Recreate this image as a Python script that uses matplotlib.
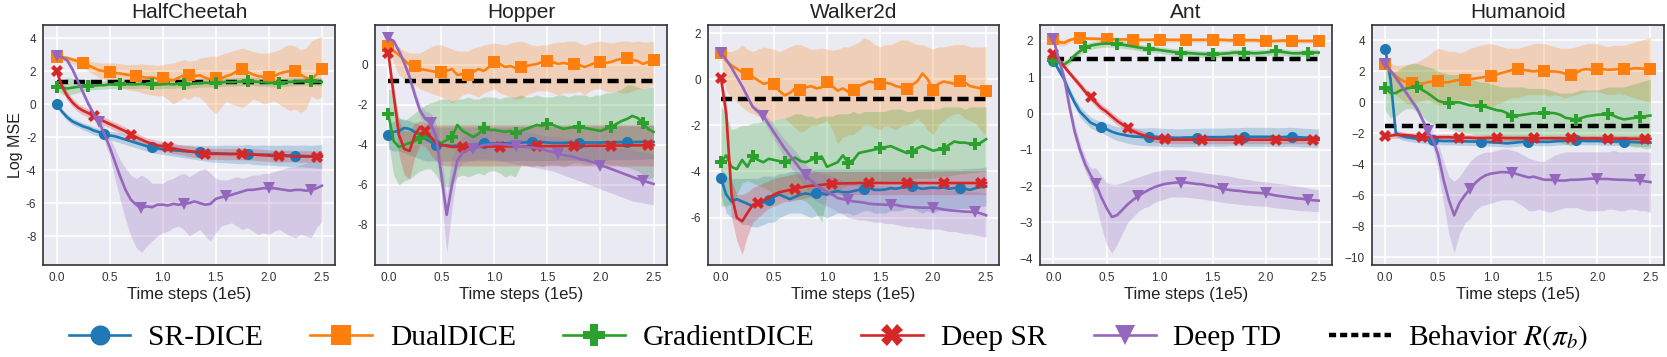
import numpy as np
import matplotlib.pyplot as plt
from matplotlib.lines import Line2D
from matplotlib.ticker import FuncFormatter

plt.rcParams['font.family'] = ['Liberation Sans', 'DejaVu Sans']
plt.rcParams['mathtext.fontset'] = 'stix'

# time steps (1e5), one reading every 0.05
steps = np.arange(51) * 0.05

envs = ['HalfCheetah', 'Hopper', 'Walker2d', 'Ant', 'Humanoid']
methods = ['SR-DICE', 'DualDICE', 'GradientDICE', 'Deep SR', 'Deep TD']
behavior_label = 'Behavior $R(\\pi_b)$'

# ---------------- HalfCheetah ----------------
hc_sr = [0.0, -0.45, -0.8, -1.05, -1.2, -1.35, -1.45, -1.6, -1.7, -1.82,
         -1.9, -1.95, -2.05, -2.15, -2.25, -2.35, -2.45, -2.55, -2.62, -2.68,
         -2.72, -2.76, -2.8, -2.82, -2.85, -2.88, -2.9, -2.92, -2.95, -2.97,
         -2.98, -3.0, -3.0, -3.02, -3.02, -3.03, -3.02, -3.05, -3.06, -3.06,
         -3.07, -3.08, -3.1, -3.1, -3.12, -3.14, -3.14, -3.15, -3.16, -3.17, -3.18]
hc_sr_lo = [-0.05, -0.6, -1.0, -1.25, -1.4, -1.55, -1.7, -1.85, -1.95, -2.05,
            -2.15, -2.25, -2.35, -2.45, -2.55, -2.65, -2.75, -2.85, -2.95, -3.0,
            -3.05, -3.1, -3.15, -3.2, -3.25, -3.3, -3.35, -3.4, -3.45, -3.5,
            -3.52, -3.55, -3.55, -3.58, -3.6, -3.62, -3.6, -3.65, -3.68, -3.7,
            -3.7, -3.72, -3.75, -3.75, -3.78, -3.8, -3.8, -3.82, -3.85, -3.88, -3.9]
hc_sr_hi = [0.05, -0.3, -0.6, -0.85, -1.0, -1.15, -1.25, -1.38, -1.48, -1.58,
            -1.65, -1.68, -1.75, -1.85, -1.95, -2.05, -2.15, -2.25, -2.3, -2.35,
            -2.4, -2.42, -2.45, -2.45, -2.47, -2.48, -2.5, -2.5, -2.52, -2.5,
            -2.5, -2.5, -2.48, -2.5, -2.5, -2.48, -2.45, -2.5, -2.5, -2.48,
            -2.48, -2.5, -2.5, -2.48, -2.5, -2.5, -2.48, -2.48, -2.5, -2.48, -2.45]
hc_dual = [2.85, 2.85, 2.8, 2.7, 2.6, 2.5, 2.35, 2.2, 2.05, 2.0,
           1.95, 1.9, 1.85, 1.8, 1.75, 1.68, 1.65, 1.6, 1.62, 1.55,
           1.58, 1.5, 1.45, 1.6, 1.75, 1.78, 1.7, 1.75, 1.6, 1.5,
           1.58, 1.55, 1.7, 1.8, 2.0, 2.15, 1.95, 1.8, 1.7, 1.65,
           1.64, 1.7, 1.85, 1.95, 2.0, 1.98, 1.8, 1.6, 1.5, 1.8, 2.15]
hc_dual_lo = [2.8, 2.75, 2.6, 2.45, 2.35, 2.25, 2.0, 1.8, 1.6, 1.5,
              1.4, 1.2, 1.0, 0.9, 0.85, 0.8, 0.7, 0.6, 0.55, 0.5,
              0.5, 0.3, 0.0, 0.2, 0.4, 0.3, 0.5, 0.4, 0.1, -0.3,
              -0.6, -0.2, 0.2, 0.0, -0.1, -0.2, 0.0, 0.3, 0.2, 0.0,
              0.1, 0.2, 0.0, -0.2, -0.4, -0.3, -0.5, -0.3, 0.5, 0.3, 0.4]
hc_dual_hi = [2.9, 2.9, 2.9, 2.85, 2.8, 2.7, 2.6, 2.55, 2.5, 2.5,
              2.5, 2.5, 2.45, 2.4, 2.4, 2.4, 2.45, 2.4, 2.4, 2.35,
              2.4, 2.45, 2.5, 2.6, 2.7, 2.6, 2.65, 2.8, 2.85, 2.9,
              2.9, 3.0, 3.1, 3.2, 3.3, 3.4, 3.3, 3.2, 3.1, 3.1,
              3.1, 3.2, 3.3, 3.5, 3.6, 3.5, 3.3, 3.4, 3.8, 4.0, 4.1]
hc_grad = [1.05, 1.0, 0.95, 1.0, 1.05, 1.1, 1.1, 1.12, 1.15, 1.15,
           1.2, 1.18, 1.2, 1.22, 1.2, 1.2, 1.22, 1.2, 1.2, 1.18,
           1.2, 1.22, 1.2, 1.25, 1.2, 1.22, 1.25, 1.28, 1.3, 1.28,
           1.3, 1.32, 1.35, 1.33, 1.35, 1.38, 1.4, 1.38, 1.35, 1.33,
           1.3, 1.28, 1.3, 1.32, 1.35, 1.37, 1.38, 1.4, 1.4, 1.38, 1.35]
hc_grad_lo = [0.9, 0.6, 0.5, 0.6, 0.7, 0.8, 0.85, 0.88, 0.9, 0.92,
              0.95, 0.93, 0.95, 0.97, 0.95, 0.95, 0.97, 0.95, 0.95, 0.93,
              0.95, 0.97, 0.95, 1.0, 0.95, 0.97, 1.0, 1.03, 1.05, 1.03,
              1.05, 1.07, 1.1, 1.08, 1.1, 1.13, 1.15, 1.13, 1.1, 1.08,
              1.05, 1.03, 1.05, 1.07, 1.1, 1.12, 1.13, 1.15, 1.15, 1.13, 1.1]
hc_grad_hi = [1.2, 1.5, 1.6, 1.55, 1.5, 1.45, 1.42, 1.4, 1.42, 1.42,
              1.45, 1.43, 1.45, 1.47, 1.45, 1.45, 1.47, 1.45, 1.45, 1.43,
              1.45, 1.47, 1.45, 1.5, 1.45, 1.47, 1.5, 1.53, 1.55, 1.53,
              1.55, 1.57, 1.6, 1.58, 1.6, 1.63, 1.65, 1.63, 1.6, 1.58,
              1.55, 1.53, 1.55, 1.57, 1.6, 1.62, 1.63, 1.65, 1.65, 1.63, 1.6]
hc_dsr = [2.0, 1.1, 0.5, 0.1, -0.2, -0.4, -0.55, -0.72, -0.9, -1.05,
          -1.2, -1.35, -1.5, -1.65, -1.85, -2.0, -2.15, -2.3, -2.4, -2.5,
          -2.55, -2.6, -2.68, -2.75, -2.8, -2.85, -2.9, -2.95, -3.0, -3.02,
          -3.02, -3.02, -3.03, -3.03, -3.02, -3.02, -3.05, -3.05, -3.08, -3.1,
          -3.12, -3.15, -3.17, -3.15, -3.15, -3.17, -3.17, -3.18, -3.18, -3.18, -3.15]
hc_dsr_lo = [1.85, 0.85, 0.25, -0.15, -0.45, -0.65, -0.8, -0.95, -1.15, -1.3,
             -1.45, -1.6, -1.75, -1.9, -2.1, -2.25, -2.4, -2.55, -2.68, -2.78,
             -2.85, -2.9, -3.0, -3.05, -3.1, -3.18, -3.22, -3.28, -3.32, -3.35,
             -3.35, -3.36, -3.37, -3.37, -3.37, -3.37, -3.4, -3.4, -3.43, -3.45,
             -3.47, -3.5, -3.52, -3.5, -3.5, -3.52, -3.52, -3.53, -3.53, -3.53, -3.5]
hc_dsr_hi = [2.15, 1.35, 0.75, 0.35, 0.05, -0.15, -0.3, -0.49, -0.65, -0.8,
             -0.95, -1.1, -1.25, -1.4, -1.6, -1.75, -1.9, -2.05, -2.12, -2.22,
             -2.25, -2.3, -2.36, -2.45, -2.5, -2.52, -2.58, -2.62, -2.68, -2.69,
             -2.69, -2.68, -2.69, -2.69, -2.67, -2.67, -2.7, -2.7, -2.73, -2.75,
             -2.77, -2.8, -2.82, -2.8, -2.8, -2.82, -2.82, -2.83, -2.83, -2.83, -2.8]
hc_dtd = [2.9, 2.85, 2.65, 2.1, 1.4, 0.7, 0.0, -0.6, -1.1, -1.8,
          -2.6, -3.5, -4.4, -5.2, -5.8, -6.1, -6.3, -6.2, -6.25, -6.1,
          -6.1, -6.15, -6.05, -6.1, -6.05, -6.0, -5.9, -6.0, -6.1, -6.05,
          -5.75, -5.65, -5.6, -5.5, -5.4, -5.3, -5.2, -5.2, -5.15, -5.1,
          -5.1, -5.1, -5.15, -5.2, -5.25, -5.2, -5.2, -5.25, -5.2, -5.1, -4.95]
hc_dtd_lo = [2.8, 2.75, 2.5, 1.9, 1.2, 0.5, -0.2, -0.8, -1.3, -2.2,
             -3.2, -4.5, -5.8, -7.0, -8.0, -8.7, -9.0, -8.6, -8.3, -8.0,
             -7.8, -7.7, -7.5, -7.4, -7.6, -8.0, -7.8, -7.6, -8.0, -8.3,
             -7.8, -7.4, -7.3, -7.2, -7.4, -7.6, -7.5, -7.7, -7.9, -7.8,
             -7.9, -7.7, -7.6, -7.8, -8.0, -8.1, -7.9, -8.0, -8.1, -7.5, -7.1]
hc_dtd_hi = [3.0, 2.95, 2.8, 2.3, 1.6, 0.9, 0.2, -0.4, -0.9, -1.4,
             -2.0, -2.7, -3.4, -3.9, -4.3, -4.5, -4.3, -4.5, -4.8, -4.8,
             -4.8, -4.6, -4.5, -4.3, -4.2, -4.4, -4.2, -4.0, -3.9, -4.2,
             -4.5, -4.6, -4.6, -4.5, -4.4, -4.5, -4.4, -4.3, -4.3, -4.2,
             -4.2, -4.1, -4.0, -3.9, -3.8, -3.8, -3.7, -3.6, -3.5, -3.5, -3.4]
hc_beh = 1.35

# ---------------- Hopper ----------------
hp_sr = [-3.5, -3.35, -3.3, -3.15, -3.2, -3.35, -3.5, -3.7, -3.85, -3.98,
         -4.0, -4.02, -4.05, -4.03, -4.0, -4.0, -3.97, -3.95, -3.92, -3.93,
         -3.92, -3.9, -3.92, -3.9, -3.9, -3.88, -3.87, -3.86, -3.85, -3.86,
         -3.88, -3.9, -3.9, -3.9, -3.88, -3.9, -3.9, -3.88, -3.88, -3.88,
         -3.88, -3.87, -3.87, -3.86, -3.86, -3.87, -3.86, -3.85, -3.85, -3.85, -3.85]
hp_sr_lo = [-4.2, -4.3, -4.3, -4.4, -4.5, -4.6, -4.7, -4.8, -4.8, -4.8,
            -4.8, -4.8, -4.8, -4.8, -4.8, -4.8, -4.8, -4.8, -4.8, -4.8,
            -4.8, -4.8, -4.8, -4.8, -4.78, -4.78, -4.78, -4.78, -4.78, -4.78,
            -4.78, -4.78, -4.76, -4.76, -4.76, -4.76, -4.76, -4.76, -4.75, -4.75,
            -4.75, -4.75, -4.74, -4.74, -4.74, -4.73, -4.72, -4.72, -4.72, -4.7, -4.7]
hp_sr_hi = [-3.0, -2.8, -2.7, -2.7, -2.8, -2.9, -3.0, -3.05, -3.1, -3.1,
            -3.1, -3.1, -3.1, -3.1, -3.1, -3.1, -3.1, -3.1, -3.1, -3.1,
            -3.1, -3.1, -3.1, -3.1, -3.08, -3.08, -3.08, -3.08, -3.08, -3.08,
            -3.08, -3.08, -3.07, -3.07, -3.07, -3.07, -3.06, -3.06, -3.06, -3.06,
            -3.06, -3.05, -3.05, -3.05, -3.05, -3.04, -3.04, -3.04, -3.03, -3.03, -3.03]
hp_dual = [0.95, 0.7, 0.5, 0.25, 0.0, -0.03, -0.2, -0.25, -0.3, -0.35,
           -0.37, -0.3, -0.2, -0.5, -0.45, -0.48, -0.35, -0.2, -0.3, -0.1,
           0.17, 0.05, -0.1, -0.05, -0.15, -0.12, -0.05, 0.0, 0.05, 0.15,
           0.22, 0.15, 0.05, 0.1, 0.05, 0.05, 0.0, -0.1, 0.0, 0.1,
           0.13, 0.1, 0.15, 0.25, 0.3, 0.35, 0.25, 0.2, 0.05, 0.15, 0.25]
hp_dual_lo = [0.85, 0.1, -0.5, -0.7, -0.8, -1.0, -1.2, -1.3, -1.4, -1.5,
              -1.6, -1.7, -1.9, -1.7, -1.5, -1.4, -1.5, -1.6, -1.4, -1.3,
              -1.2, -1.4, -1.5, -1.6, -1.7, -1.7, -1.5, -1.4, -1.3, -1.3,
              -1.3, -1.4, -1.5, -1.4, -1.4, -1.4, -1.3, -1.5, -1.3, -1.2,
              -1.2, -1.3, -1.4, -1.3, -1.4, -1.4, -1.3, -1.2, -1.2, -1.1, -1.0]
hp_dual_hi = [1.05, 1.0, 0.9, 0.7, 0.6, 0.6, 0.6, 0.75, 0.9, 1.0,
              1.0, 0.9, 0.8, 0.7, 0.7, 0.7, 0.85, 0.9, 1.0, 1.05,
              1.1, 1.05, 1.0, 1.1, 1.15, 1.2, 1.1, 1.0, 0.95, 1.0,
              1.0, 1.1, 1.15, 1.15, 1.2, 1.2, 1.1, 1.0, 1.1, 1.15,
              1.2, 1.15, 1.1, 1.15, 1.2, 1.2, 1.15, 1.2, 1.15, 1.15, 1.2]
hp_grad = [-2.45, -3.8, -4.1, -4.0, -3.9, -3.8, -3.65, -3.5, -3.7, -3.85,
           -3.9, -3.75, -3.62, -3.0, -3.3, -3.45, -3.6, -3.45, -3.17, -3.25,
           -3.25, -3.3, -3.35, -3.3, -3.4, -3.3, -3.2, -3.1, -3.0, -3.05,
           -2.95, -3.0, -3.1, -3.2, -3.15, -3.1, -3.08, -3.15, -3.2, -3.25,
           -3.3, -3.2, -3.1, -2.95, -2.8, -2.7, -2.55, -2.65, -2.9, -3.2, -3.35]
hp_grad_lo = [-3.8, -5.5, -6.0, -5.8, -5.7, -5.5, -5.3, -5.2, -5.2, -5.5,
              -6.0, -6.1, -6.0, -5.6, -5.5, -5.6, -5.5, -5.4, -5.5, -5.3,
              -5.3, -5.4, -5.6, -5.5, -5.6, -5.0, -5.0, -5.1, -5.0, -5.1,
              -5.0, -5.0, -5.0, -5.1, -5.0, -4.9, -4.9, -5.0, -5.0, -4.9,
              -4.9, -4.95, -5.0, -5.0, -5.1, -5.1, -5.2, -5.3, -5.5, -5.7, -5.6]
hp_grad_hi = [-1.2, -1.3, -2.6, -2.8, -2.6, -2.4, -2.2, -2.0, -1.9, -1.8,
              -1.7, -1.7, -1.8, -1.7, -1.7, -1.6, -1.7, -1.7, -1.6, -1.6,
              -1.6, -1.7, -1.6, -1.6, -1.6, -1.5, -1.6, -1.6, -1.5, -1.6,
              -1.6, -1.6, -1.5, -1.5, -1.6, -1.5, -1.5, -1.5, -1.6, -1.5,
              -1.5, -1.4, -1.4, -1.3, -1.2, -1.0, -1.0, -1.1, -1.2, -1.1, -1.1]
hp_dsr = [0.6, -1.5, -3.5, -4.2, -4.3, -3.5, -3.1, -3.28, -3.6, -3.9,
          -4.0, -4.05, -4.1, -4.1, -4.1, -4.1, -4.1, -4.08, -4.08, -4.08,
          -4.08, -4.08, -4.07, -4.07, -4.07, -4.07, -4.07, -4.07, -4.06, -4.06,
          -4.06, -4.06, -4.06, -4.05, -4.05, -4.05, -4.05, -4.05, -4.04, -4.04,
          -4.04, -4.04, -4.03, -4.03, -4.03, -4.03, -4.02, -4.02, -4.02, -4.02, -4.01]
hp_dsr_lo = [0.4, -2.0, -4.5, -5.5, -5.7, -4.6, -4.0, -4.1, -4.5, -4.8,
             -5.0, -5.05, -5.05, -5.05, -5.05, -5.05, -5.05, -5.05, -5.05, -5.05,
             -5.05, -5.05, -5.05, -5.05, -5.05, -5.05, -5.05, -5.05, -5.05, -5.05,
             -5.05, -5.05, -5.05, -5.05, -5.05, -5.05, -5.05, -5.05, -5.05, -5.05,
             -5.05, -5.05, -5.05, -5.05, -5.05, -5.05, -5.05, -5.05, -5.05, -5.05, -5.05]
hp_dsr_hi = [0.8, -1.0, -2.8, -3.3, -3.3, -2.9, -2.8, -2.9, -3.0, -3.0,
             -3.0, -3.0, -3.0, -3.0, -3.0, -3.0, -3.0, -3.0, -3.0, -3.0,
             -3.0, -3.0, -3.0, -3.0, -3.0, -3.0, -3.0, -3.0, -3.0, -3.0,
             -3.0, -3.0, -3.0, -3.0, -3.0, -3.0, -3.0, -3.0, -3.0, -3.0,
             -3.0, -3.0, -3.0, -3.0, -3.0, -3.0, -3.0, -3.0, -3.0, -3.0, -3.0]
hp_dtd = [1.33, 1.2, 0.7, 0.1, -0.6, -1.5, -2.3, -2.7, -2.9, -3.6,
          -5.5, -7.5, -6.0, -4.8, -4.4, -4.25, -4.2, -4.1, -4.0, -3.98,
          -3.95, -3.96, -3.98, -4.0, -4.05, -4.07, -4.1, -4.13, -4.17, -4.2,
          -4.3, -4.35, -4.45, -4.5, -4.55, -4.6, -4.7, -4.75, -4.82, -4.9,
          -5.03, -5.1, -5.2, -5.3, -5.4, -5.5, -5.6, -5.7, -5.78, -5.87, -5.95]
hp_dtd_lo = [1.25, 1.1, 0.55, -0.1, -0.85, -1.8, -2.6, -3.1, -3.4, -4.3,
             -6.5, -9.4, -7.2, -5.3, -4.9, -4.8, -4.75, -4.7, -4.7, -4.7,
             -4.75, -4.8, -4.85, -4.9, -4.95, -5.0, -5.05, -5.1, -5.15, -5.2,
             -5.25, -5.3, -5.4, -5.5, -5.6, -5.7, -5.8, -5.9, -6.0, -6.1,
             -6.2, -6.3, -6.4, -6.5, -6.6, -6.7, -6.8, -6.85, -6.9, -6.95, -7.0]
hp_dtd_hi = [1.4, 1.3, 0.85, 0.3, -0.35, -1.2, -2.0, -2.3, -2.4, -2.9,
             -4.5, -6.5, -4.6, -4.0, -3.6, -3.5, -3.4, -3.3, -3.3, -3.25,
             -3.2, -3.2, -3.2, -3.25, -3.3, -3.3, -3.35, -3.4, -3.45, -3.5,
             -3.55, -3.6, -3.6, -3.65, -3.7, -3.7, -3.75, -3.8, -3.85, -3.9,
             -3.95, -4.0, -4.05, -4.1, -4.15, -4.2, -4.25, -4.3, -4.35, -4.4, -4.5]
hp_beh = -0.8

# ---------------- Walker2d ----------------
wk_sr = [-4.3, -5.0, -5.3, -5.2, -5.3, -5.4, -5.5, -5.45, -5.35, -5.25,
         -5.1, -5.0, -5.1, -5.2, -5.1, -5.0, -4.95, -5.0, -4.93, -4.95,
         -5.0, -4.9, -4.85, -4.9, -4.9, -4.85, -4.8, -4.75, -4.72, -4.8,
         -4.8, -4.78, -4.72, -4.75, -4.7, -4.68, -4.65, -4.7, -4.75, -4.72,
         -4.7, -4.72, -4.7, -4.75, -4.72, -4.72, -4.75, -4.8, -4.72, -4.68, -4.65]
wk_sr_lo = [-5.0, -5.8, -6.0, -6.1, -6.3, -6.3, -6.4, -6.4, -6.3, -6.2,
            -6.2, -6.0, -5.9, -5.8, -5.8, -5.8, -5.9, -6.0, -5.9, -5.9,
            -6.0, -5.9, -5.8, -5.8, -5.8, -5.9, -5.8, -5.7, -5.7, -5.8,
            -5.8, -5.8, -5.7, -5.7, -5.7, -5.6, -5.6, -5.7, -5.8, -5.7,
            -5.8, -5.7, -5.7, -5.6, -5.6, -5.6, -5.6, -5.6, -5.5, -5.5, -5.5]
wk_sr_hi = [-3.8, -4.2, -4.3, -4.3, -4.3, -4.3, -4.3, -4.3, -4.2, -4.2,
            -4.2, -4.1, -4.1, -4.0, -4.0, -4.0, -4.0, -3.95, -3.9, -3.9,
            -3.9, -3.9, -3.9, -3.9, -3.9, -3.9, -3.9, -3.9, -3.9, -3.9,
            -3.9, -3.9, -3.9, -3.9, -3.9, -3.9, -3.9, -3.9, -3.9, -3.9,
            -3.9, -3.9, -3.9, -3.9, -3.9, -3.9, -3.88, -3.87, -3.86, -3.85, -3.8]
wk_dual = [1.15, 0.8, 0.6, 0.45, 0.3, 0.24, 0.1, -0.05, -0.2, -0.15,
           -0.22, -0.5, -0.7, -0.6, -0.4, -0.46, -0.35, -0.3, -0.4, -0.35,
           -0.12, -0.3, -0.5, -0.4, -0.55, -0.48, -0.3, -0.2, -0.1, -0.15,
           -0.19, -0.15, -0.2, -0.3, -0.35, -0.43, -0.25, -0.1, 0.25, 0.0,
           -0.47, -0.2, -0.1, -0.15, -0.2, -0.07, -0.15, -0.3, -0.35, -0.4, -0.5]
wk_dual_lo = [1.1, -0.5, -0.8, -1.0, -1.2, -1.4, -1.5, -1.6, -1.7, -1.8,
              -1.8, -1.7, -1.7, -1.9, -2.1, -2.3, -2.2, -2.0, -2.0, -1.9,
              -1.8, -2.2, -2.8, -2.5, -2.4, -2.4, -2.2, -2.0, -2.0, -2.1,
              -2.2, -2.0, -2.1, -2.2, -2.0, -2.0, -1.9, -1.7, -1.9, -2.2,
              -2.4, -2.0, -1.8, -1.6, -1.5, -1.5, -1.7, -1.8, -1.9, -2.2, -2.5]
wk_dual_hi = [1.2, 1.2, 1.2, 1.3, 1.5, 1.3, 1.2, 1.3, 1.4, 1.35,
              1.3, 1.2, 1.3, 1.4, 1.5, 1.5, 1.4, 1.3, 1.3, 1.35,
              1.3, 1.25, 1.3, 1.4, 1.4, 1.5, 1.6, 1.8, 1.7, 1.5,
              1.4, 1.5, 1.5, 1.6, 1.7, 1.7, 1.6, 1.5, 1.5, 1.4,
              1.3, 1.4, 1.4, 1.45, 1.5, 1.5, 1.5, 1.4, 1.4, 1.4, 1.4]
wk_grad = [-3.6, -3.3, -3.8, -3.9, -3.5, -3.8, -3.34, -3.5, -3.6, -3.45,
           -3.5, -3.55, -3.6, -3.5, -3.4, -3.55, -3.6, -3.5, -3.4, -3.35,
           -3.8, -3.7, -3.6, -3.3, -3.62, -3.5, -3.2, -3.15, -3.1, -3.05,
           -3.0, -2.95, -2.9, -3.0, -3.1, -3.2, -3.17, -3.0, -2.9, -3.0,
           -3.1, -3.05, -3.02, -2.85, -2.7, -2.75, -2.75, -2.8, -2.83, -2.75, -2.6]
wk_grad_lo = [-5.5, -5.5, -5.4, -5.0, -4.5, -4.4, -4.5, -4.6, -4.7, -4.8,
              -5.0, -5.0, -5.1, -5.2, -5.2, -5.2, -5.3, -5.5, -5.8, -6.2,
              -5.0, -4.9, -4.8, -4.7, -4.6, -4.6, -4.6, -4.5, -4.5, -4.5,
              -4.5, -4.45, -4.4, -4.4, -4.4, -4.4, -4.35, -4.3, -4.3, -4.3,
              -4.3, -4.25, -4.2, -4.2, -4.15, -4.1, -4.1, -4.05, -4.05, -4.0, -4.0]
wk_grad_hi = [-1.2, -1.5, -2.2, -2.1, -2.0, -2.0, -1.9, -1.9, -1.8, -1.8,
              -1.8, -1.7, -1.7, -1.6, -1.5, -1.5, -1.6, -1.6, -1.7, -1.6,
              -1.6, -1.6, -1.5, -1.5, -1.5, -1.4, -1.5, -1.4, -1.4, -1.4,
              -1.4, -1.4, -1.3, -1.3, -1.3, -1.4, -1.4, -1.3, -1.3, -1.3,
              -1.3, -1.3, -1.2, -1.2, -1.2, -1.2, -1.3, -1.2, -1.2, -1.2, -1.2]
wk_dsr = [0.07, -1.5, -5.0, -6.0, -6.16, -5.8, -5.45, -5.35, -5.25, -5.15,
          -5.0, -4.9, -4.85, -4.8, -4.75, -4.7, -4.65, -4.62, -4.6, -4.58,
          -4.55, -4.53, -4.52, -4.52, -4.51, -4.51, -4.5, -4.5, -4.5, -4.5,
          -4.5, -4.5, -4.5, -4.5, -4.5, -4.5, -4.5, -4.5, -4.5, -4.5,
          -4.5, -4.5, -4.5, -4.5, -4.5, -4.5, -4.5, -4.5, -4.5, -4.5, -4.5]
wk_dsr_lo = [0.0, -2.2, -6.0, -7.0, -7.6, -6.8, -6.2, -6.0, -5.8, -5.6,
             -5.5, -5.4, -5.3, -5.3, -5.25, -5.2, -5.15, -5.1, -5.1, -5.05,
             -5.05, -5.0, -5.0, -5.0, -5.0, -5.0, -5.0, -5.0, -5.0, -5.0,
             -5.0, -5.0, -5.0, -5.0, -5.0, -5.0, -5.0, -5.0, -5.0, -5.0,
             -5.0, -5.0, -5.0, -5.0, -5.0, -5.0, -5.0, -5.0, -5.0, -5.0, -5.0]
wk_dsr_hi = [0.15, -0.8, -4.4, -5.0, -5.0, -4.9, -4.7, -4.6, -4.5, -4.4,
             -4.3, -4.25, -4.2, -4.15, -4.1, -4.1, -4.05, -4.05, -4.0, -4.0,
             -4.0, -4.0, -4.0, -4.0, -4.0, -4.0, -4.0, -4.0, -4.0, -4.0,
             -4.0, -4.0, -4.0, -4.0, -4.0, -4.0, -4.0, -4.0, -4.0, -4.0,
             -3.98, -3.98, -3.98, -3.97, -3.97, -3.97, -3.96, -3.96, -3.96, -3.95, -3.95]
wk_dtd = [1.15, 0.85, 0.5, 0.1, -0.3, -0.75, -1.2, -1.4, -1.58, -1.95,
          -2.3, -2.65, -3.0, -3.3, -3.6, -3.9, -4.17, -4.4, -4.6, -4.75,
          -4.9, -5.0, -5.15, -5.2, -5.25, -5.3, -5.32, -5.35, -5.4, -5.42,
          -5.43, -5.44, -5.44, -5.45, -5.5, -5.52, -5.55, -5.56, -5.57, -5.57,
          -5.57, -5.6, -5.65, -5.68, -5.7, -5.72, -5.74, -5.75, -5.76, -5.82, -5.9]
wk_dtd_lo = [1.1, 0.8, 0.45, 0.05, -0.35, -0.8, -1.3, -1.55, -1.8, -2.2,
             -2.6, -3.0, -3.4, -3.75, -4.1, -4.4, -4.7, -5.0, -5.3, -5.4,
             -5.5, -5.6, -5.75, -5.85, -6.0, -6.05, -6.1, -6.1, -6.15, -6.2,
             -6.2, -6.25, -6.25, -6.3, -6.35, -6.4, -6.4, -6.45, -6.45, -6.5,
             -6.5, -6.5, -6.55, -6.6, -6.6, -6.65, -6.7, -6.7, -6.75, -6.8, -6.85]
wk_dtd_hi = [1.2, 0.9, 0.55, 0.15, -0.25, -0.7, -1.1, -1.25, -1.4, -1.7,
             -2.0, -2.3, -2.6, -2.85, -3.1, -3.4, -3.7, -3.9, -4.0, -4.1,
             -4.1, -4.2, -4.3, -4.4, -4.5, -4.5, -4.55, -4.55, -4.6, -4.6,
             -4.6, -4.62, -4.62, -4.65, -4.7, -4.7, -4.72, -4.72, -4.75, -4.75,
             -4.75, -4.78, -4.8, -4.8, -4.82, -4.85, -4.85, -4.87, -4.88, -4.9, -4.95]
wk_beh = -0.86

# ---------------- Ant ----------------
ant_sr = [1.45, 1.2, 0.95, 0.6, 0.3, 0.05, -0.1, -0.25, -0.32, -0.37,
          -0.43, -0.5, -0.55, -0.58, -0.61, -0.63, -0.64, -0.64, -0.64, -0.64,
          -0.65, -0.66, -0.66, -0.67, -0.67, -0.66, -0.66, -0.66, -0.66, -0.65,
          -0.65, -0.65, -0.65, -0.64, -0.64, -0.64, -0.64, -0.64, -0.64, -0.64,
          -0.64, -0.64, -0.65, -0.65, -0.64, -0.64, -0.65, -0.66, -0.67, -0.68, -0.68]
ant_sr_lo = [1.4, 1.1, 0.85, 0.48, 0.17, -0.1, -0.25, -0.4, -0.47, -0.52,
             -0.6, -0.68, -0.74, -0.78, -0.82, -0.85, -0.87, -0.88, -0.89, -0.89,
             -0.9, -0.91, -0.91, -0.92, -0.92, -0.91, -0.91, -0.91, -0.9, -0.9,
             -0.9, -0.9, -0.9, -0.89, -0.89, -0.89, -0.9, -0.9, -0.9, -0.9,
             -0.9, -0.9, -0.91, -0.91, -0.9, -0.9, -0.91, -0.92, -0.92, -0.93, -0.93]
ant_sr_hi = [1.5, 1.3, 1.05, 0.72, 0.43, 0.2, 0.05, -0.1, -0.17, -0.22,
             -0.26, -0.32, -0.36, -0.38, -0.4, -0.41, -0.4, -0.4, -0.39, -0.39,
             -0.4, -0.41, -0.41, -0.42, -0.42, -0.41, -0.41, -0.41, -0.4, -0.4,
             -0.4, -0.4, -0.4, -0.39, -0.39, -0.39, -0.38, -0.38, -0.38, -0.38,
             -0.38, -0.38, -0.39, -0.39, -0.38, -0.38, -0.39, -0.4, -0.41, -0.42, -0.42]
ant_dual = [2.05, 1.97, 1.95, 2.02, 2.06, 2.07, 2.07, 2.06, 2.06, 2.05,
            2.05, 2.05, 2.04, 2.04, 2.04, 2.03, 2.03, 2.03, 2.03, 2.03,
            2.03, 2.03, 2.03, 2.03, 2.03, 2.03, 2.03, 2.03, 2.03, 2.03,
            2.03, 2.03, 2.03, 2.02, 2.02, 2.03, 2.02, 2.02, 2.02, 2.01,
            2.0, 2.0, 2.0, 2.01, 2.01, 2.0, 2.0, 2.0, 2.0, 2.0, 2.0]
ant_dual_lo = [1.99, 1.87, 1.86, 1.95, 2.0, 2.01, 2.01, 2.0, 2.0, 1.99,
               1.99, 1.99, 1.98, 1.98, 1.98, 1.97, 1.97, 1.97, 1.97, 1.97,
               1.97, 1.97, 1.97, 1.97, 1.97, 1.97, 1.97, 1.97, 1.97, 1.97,
               1.97, 1.97, 1.97, 1.96, 1.96, 1.97, 1.96, 1.96, 1.96, 1.95,
               1.94, 1.94, 1.94, 1.95, 1.95, 1.94, 1.94, 1.94, 1.94, 1.94, 1.94]
ant_dual_hi = [2.11, 2.05, 2.04, 2.09, 2.12, 2.13, 2.13, 2.12, 2.12, 2.11,
               2.11, 2.11, 2.1, 2.1, 2.1, 2.09, 2.09, 2.09, 2.09, 2.09,
               2.09, 2.09, 2.09, 2.09, 2.09, 2.09, 2.09, 2.09, 2.09, 2.09,
               2.09, 2.09, 2.09, 2.08, 2.08, 2.09, 2.08, 2.08, 2.08, 2.07,
               2.06, 2.06, 2.06, 2.07, 2.07, 2.06, 2.06, 2.06, 2.06, 2.06, 2.06]
ant_grad = [1.47, 1.4, 1.35, 1.45, 1.6, 1.72, 1.82, 1.87, 1.9, 1.92,
            1.93, 1.93, 1.92, 1.9, 1.87, 1.85, 1.82, 1.8, 1.79, 1.77,
            1.75, 1.73, 1.71, 1.69, 1.68, 1.67, 1.66, 1.65, 1.64, 1.64,
            1.63, 1.64, 1.65, 1.66, 1.68, 1.68, 1.68, 1.67, 1.66, 1.67,
            1.68, 1.7, 1.72, 1.7, 1.68, 1.66, 1.66, 1.67, 1.68, 1.68, 1.68]
ant_grad_lo = [1.42, 1.33, 1.25, 1.35, 1.5, 1.62, 1.72, 1.77, 1.8, 1.82,
               1.83, 1.83, 1.82, 1.8, 1.78, 1.76, 1.73, 1.71, 1.7, 1.68,
               1.66, 1.64, 1.62, 1.6, 1.59, 1.58, 1.57, 1.56, 1.55, 1.55,
               1.54, 1.55, 1.56, 1.57, 1.59, 1.59, 1.59, 1.58, 1.57, 1.58,
               1.59, 1.61, 1.63, 1.61, 1.59, 1.57, 1.57, 1.58, 1.59, 1.59, 1.59]
ant_grad_hi = [1.52, 1.47, 1.45, 1.55, 1.7, 1.82, 1.92, 1.97, 2.0, 2.02,
               2.03, 2.03, 2.02, 2.0, 1.96, 1.94, 1.91, 1.89, 1.88, 1.86,
               1.84, 1.82, 1.8, 1.78, 1.77, 1.76, 1.75, 1.74, 1.73, 1.73,
               1.72, 1.73, 1.74, 1.75, 1.77, 1.77, 1.77, 1.76, 1.75, 1.76,
               1.77, 1.79, 1.81, 1.79, 1.77, 1.75, 1.75, 1.76, 1.77, 1.77, 1.77]
ant_dsr = [1.63, 1.5, 1.3, 1.12, 0.95, 0.78, 0.6, 0.46, 0.3, 0.15,
           0.05, -0.08, -0.2, -0.3, -0.4, -0.48, -0.55, -0.6, -0.65, -0.68,
           -0.7, -0.71, -0.72, -0.72, -0.72, -0.72, -0.72, -0.72, -0.72, -0.72,
           -0.72, -0.72, -0.72, -0.72, -0.72, -0.72, -0.72, -0.72, -0.72, -0.72,
           -0.72, -0.72, -0.72, -0.72, -0.72, -0.72, -0.72, -0.72, -0.72, -0.72, -0.72]
ant_dsr_lo = [1.58, 1.44, 1.23, 1.04, 0.86, 0.68, 0.5, 0.35, 0.19, 0.04,
              -0.06, -0.19, -0.31, -0.41, -0.51, -0.59, -0.66, -0.71, -0.76, -0.79,
              -0.81, -0.82, -0.83, -0.83, -0.83, -0.83, -0.83, -0.83, -0.83, -0.83,
              -0.83, -0.83, -0.83, -0.83, -0.83, -0.83, -0.83, -0.83, -0.83, -0.83,
              -0.83, -0.83, -0.83, -0.83, -0.83, -0.83, -0.83, -0.83, -0.83, -0.83, -0.83]
ant_dsr_hi = [1.68, 1.56, 1.37, 1.2, 1.04, 0.88, 0.7, 0.57, 0.41, 0.26,
              0.16, 0.03, -0.09, -0.19, -0.29, -0.37, -0.44, -0.49, -0.54, -0.57,
              -0.59, -0.6, -0.61, -0.61, -0.61, -0.61, -0.61, -0.61, -0.61, -0.61,
              -0.61, -0.61, -0.61, -0.61, -0.61, -0.61, -0.61, -0.61, -0.61, -0.61,
              -0.61, -0.61, -0.61, -0.61, -0.61, -0.61, -0.61, -0.61, -0.61, -0.61, -0.61]
ant_dtd = [2.05, 1.5, 1.0, 0.2, -0.5, -1.0, -1.4, -1.7, -1.93, -2.3,
           -2.6, -2.85, -2.8, -2.65, -2.5, -2.38, -2.27, -2.18, -2.1, -2.03,
           -1.98, -1.94, -1.92, -1.9, -1.9, -1.9, -1.92, -1.94, -1.95, -1.98,
           -2.0, -2.04, -2.08, -2.1, -2.12, -2.13, -2.15, -2.17, -2.18, -2.19,
           -2.2, -2.23, -2.26, -2.28, -2.3, -2.32, -2.34, -2.35, -2.38, -2.39, -2.4]
ant_dtd_lo = [2.0, 1.4, 0.85, 0.0, -0.7, -1.2, -1.6, -1.9, -2.5, -3.1,
              -3.6, -3.85, -3.6, -3.3, -3.0, -2.85, -2.7, -2.6, -2.55, -2.45,
              -2.4, -2.35, -2.3, -2.3, -2.3, -2.3, -2.32, -2.34, -2.35, -2.38,
              -2.4, -2.42, -2.45, -2.47, -2.48, -2.5, -2.52, -2.53, -2.54, -2.55,
              -2.55, -2.58, -2.6, -2.62, -2.63, -2.65, -2.67, -2.68, -2.68, -2.7, -2.7]
ant_dtd_hi = [2.1, 1.6, 1.15, 0.4, -0.3, -0.8, -1.2, -1.5, -1.5, -1.7,
              -1.9, -1.95, -1.95, -1.9, -1.85, -1.8, -1.75, -1.7, -1.65, -1.6,
              -1.58, -1.55, -1.55, -1.55, -1.55, -1.56, -1.58, -1.6, -1.62, -1.65,
              -1.66, -1.68, -1.7, -1.72, -1.75, -1.78, -1.8, -1.82, -1.85, -1.87,
              -1.88, -1.9, -1.92, -1.94, -1.96, -1.98, -2.0, -2.02, -2.05, -2.08, -2.1]
ant_beh = 1.5

# ---------------- Humanoid ----------------
hm_sr = [3.43, 1.5, -2.0, -2.15, -2.25, -2.3, -2.35, -2.4, -2.43, -2.46,
         -2.48, -2.5, -2.5, -2.5, -2.52, -2.52, -2.53, -2.53, -2.53, -2.55,
         -2.58, -2.6, -2.62, -2.65, -2.62, -2.58, -2.55, -2.53, -2.53, -2.55,
         -2.55, -2.55, -2.52, -2.5, -2.48, -2.47, -2.46, -2.48, -2.5, -2.5,
         -2.5, -2.52, -2.53, -2.53, -2.52, -2.53, -2.55, -2.57, -2.58, -2.6, -2.6]
hm_sr_lo = [3.3, 1.0, -2.2, -2.4, -2.5, -2.55, -2.6, -2.65, -2.68, -2.71,
            -2.73, -2.75, -2.75, -2.75, -2.77, -2.77, -2.78, -2.78, -2.78, -2.8,
            -2.83, -2.85, -2.87, -2.9, -2.87, -2.83, -2.8, -2.78, -2.78, -2.8,
            -2.8, -2.8, -2.77, -2.75, -2.73, -2.72, -2.71, -2.73, -2.75, -2.75,
            -2.75, -2.77, -2.78, -2.78, -2.77, -2.78, -2.8, -2.82, -2.83, -2.85, -2.85]
hm_sr_hi = [3.55, 2.0, -1.8, -1.9, -2.0, -2.05, -2.1, -2.15, -2.18, -2.21,
            -2.23, -2.25, -2.25, -2.25, -2.27, -2.27, -2.28, -2.28, -2.28, -2.3,
            -2.33, -2.35, -2.37, -2.4, -2.37, -2.33, -2.3, -2.28, -2.28, -2.3,
            -2.3, -2.3, -2.27, -2.25, -2.23, -2.22, -2.21, -2.23, -2.25, -2.25,
            -2.25, -2.27, -2.28, -2.28, -2.27, -2.28, -2.3, -2.32, -2.33, -2.35, -2.35]
hm_dual = [2.45, 2.0, 1.7, 1.45, 1.3, 1.28, 1.25, 1.2, 1.3, 1.35,
           1.38, 1.3, 1.3, 1.4, 1.45, 1.45, 1.5, 1.55, 1.6, 1.65,
           1.7, 1.8, 1.9, 2.0, 2.1, 2.14, 2.1, 2.05, 2.0, 2.05,
           2.03, 2.0, 2.0, 1.95, 1.85, 1.78, 1.9, 2.1, 2.15, 2.1,
           2.14, 2.15, 2.1, 2.12, 2.15, 2.14, 2.15, 2.2, 2.2, 2.15, 2.18]
hm_dual_lo = [2.3, 1.0, 0.5, 0.2, -0.1, -0.1, 0.0, 0.1, 0.2, 0.0,
              -0.2, -0.1, 0.0, 0.1, 0.2, 0.2, 0.0, -0.1, -0.2, -0.3,
              -0.3, -0.1, 0.0, 0.2, 0.3, 0.3, 0.4, 0.5, 0.5, 0.5,
              0.5, 0.4, 0.5, 0.4, 0.3, 0.4, 0.5, 0.6, 0.7, 0.7,
              0.7, 0.6, 0.5, 0.5, 0.6, 0.5, 0.4, 0.3, 0.2, 0.1, 0.0]
hm_dual_hi = [2.6, 2.5, 2.4, 2.4, 2.45, 2.5, 2.6, 2.8, 3.0, 3.3,
              3.5, 3.4, 3.3, 3.3, 3.2, 3.3, 3.5, 3.6, 3.7, 3.75,
              3.8, 3.7, 3.6, 3.5, 3.5, 3.5, 3.6, 3.7, 3.8, 3.8,
              3.8, 3.7, 3.6, 3.5, 3.5, 3.5, 3.6, 3.7, 3.8, 3.8,
              3.8, 3.7, 3.6, 3.7, 3.7, 3.7, 3.8, 3.9, 4.0, 4.1, 4.2]
hm_grad = [0.95, 0.6, 0.6, 0.8, 0.9, 0.95, 1.0, 0.8, 0.6, 0.35,
           0.1, 0.0, -0.02, 0.0, 0.0, -0.1, -0.2, -0.2, -0.22, -0.3,
           -0.4, -0.5, -0.55, -0.7, -0.9, -0.85, -0.8, -0.75, -0.7, -0.72,
           -0.7, -0.68, -0.7, -0.8, -1.0, -1.05, -1.13, -1.0, -0.9, -0.85,
           -0.8, -0.78, -0.75, -0.85, -1.0, -1.1, -1.05, -1.0, -0.93, -0.9, -0.85]
hm_grad_lo = [-0.5, -1.0, -0.9, -0.6, -0.4, -0.4, -0.6, -0.9, -1.2, -1.4,
              -1.5, -1.6, -1.7, -1.8, -1.9, -2.0, -2.0, -2.1, -2.1, -2.2,
              -2.2, -2.3, -2.4, -2.5, -2.5, -2.5, -2.4, -2.3, -2.2, -2.2,
              -2.2, -2.3, -2.4, -2.6, -2.7, -2.8, -2.7, -2.5, -2.3, -2.3,
              -2.3, -2.4, -2.5, -2.6, -2.7, -2.8, -2.8, -2.9, -2.9, -3.0, -3.0]
hm_grad_hi = [2.5, 2.0, 2.0, 2.2, 2.4, 2.5, 2.5, 2.4, 2.3, 2.2,
              2.0, 1.9, 1.8, 1.8, 1.8, 1.7, 1.5, 1.4, 1.3, 1.3,
              1.2, 1.1, 1.0, 1.0, 1.0, 1.0, 1.0, 0.9, 0.9, 0.9,
              0.9, 0.8, 0.7, 0.6, 0.6, 0.6, 0.7, 0.8, 0.8, 0.8,
              0.8, 0.9, 1.0, 1.0, 1.0, 1.0, 1.1, 1.2, 1.3, 1.4, 1.5]
hm_dsr = [-2.2, -2.15, -2.1, -2.1, -2.12, -2.15, -2.2, -2.22, -2.25, -2.25,
          -2.25, -2.25, -2.25, -2.27, -2.27, -2.28, -2.28, -2.3, -2.3, -2.3,
          -2.3, -2.3, -2.3, -2.31, -2.31, -2.31, -2.31, -2.31, -2.32, -2.32,
          -2.32, -2.32, -2.32, -2.32, -2.33, -2.33, -2.33, -2.33, -2.33, -2.33,
          -2.33, -2.34, -2.34, -2.34, -2.34, -2.34, -2.35, -2.35, -2.35, -2.35, -2.35]
hm_dsr_lo = [-2.4, -2.35, -2.3, -2.3, -2.32, -2.35, -2.4, -2.42, -2.45, -2.45,
             -2.45, -2.45, -2.45, -2.47, -2.47, -2.48, -2.48, -2.5, -2.5, -2.5,
             -2.5, -2.5, -2.5, -2.51, -2.51, -2.51, -2.51, -2.51, -2.52, -2.52,
             -2.52, -2.52, -2.52, -2.52, -2.53, -2.53, -2.53, -2.53, -2.53, -2.53,
             -2.53, -2.54, -2.54, -2.54, -2.54, -2.54, -2.55, -2.55, -2.55, -2.55, -2.55]
hm_dsr_hi = [-2.0, -1.95, -1.9, -1.9, -1.92, -1.95, -2.0, -2.02, -2.05, -2.05,
             -2.05, -2.05, -2.05, -2.07, -2.07, -2.08, -2.08, -2.1, -2.1, -2.1,
             -2.1, -2.1, -2.1, -2.11, -2.11, -2.11, -2.11, -2.11, -2.12, -2.12,
             -2.12, -2.12, -2.12, -2.12, -2.13, -2.13, -2.13, -2.13, -2.13, -2.13,
             -2.13, -2.14, -2.14, -2.14, -2.14, -2.14, -2.15, -2.15, -2.15, -2.15, -2.15]
hm_dtd = [2.5, 2.05, 1.6, 1.1, 0.6, 0.1, -0.4, -1.1, -1.88, -2.4,
          -3.4, -5.0, -6.3, -7.3, -6.5, -6.0, -5.6, -5.2, -4.9, -4.7,
          -4.6, -4.55, -4.5, -4.52, -4.55, -4.65, -4.75, -4.85, -4.8, -4.9,
          -5.0, -5.0, -5.03, -5.05, -5.05, -5.0, -5.0, -4.98, -4.95, -4.93,
          -4.93, -4.95, -4.95, -4.98, -5.0, -5.0, -5.02, -5.03, -5.03, -5.1, -5.15]
hm_dtd_lo = [2.4, 1.9, 1.4, 0.9, 0.4, -0.1, -0.6, -1.3, -2.3, -2.9,
             -4.5, -6.5, -8.5, -9.7, -8.5, -7.8, -7.5, -7.0, -6.7, -6.6,
             -6.5, -6.4, -6.3, -6.3, -6.3, -6.5, -6.7, -7.0, -7.0, -6.9,
             -7.0, -7.1, -7.0, -6.9, -6.8, -6.8, -6.8, -6.9, -7.0, -7.0,
             -7.0, -7.0, -6.9, -6.9, -7.0, -7.0, -6.9, -6.9, -7.0, -7.0, -7.1]
hm_dtd_hi = [2.6, 2.2, 1.8, 1.3, 0.8, 0.3, -0.2, -0.9, -1.5, -1.9,
             -2.7, -3.8, -4.8, -5.1, -4.8, -4.3, -3.8, -3.5, -3.3, -3.2,
             -3.2, -3.1, -3.0, -3.0, -3.1, -3.2, -3.4, -3.6, -3.7, -3.8,
             -3.8, -3.6, -3.4, -3.3, -3.2, -3.2, -3.2, -3.2, -3.2, -3.2,
             -3.2, -3.2, -3.2, -3.1, -3.2, -3.2, -3.2, -3.2, -3.2, -3.2, -3.2]
hm_beh = -1.5

# axis ranges / ticks
ylims = [(-9.75, 4.8), (-10.0, 2.0), (-8.05, 2.35), (-4.17, 2.44), (-10.5, 5.0)]
yticks = [[-8, -6, -4, -2, 0, 2, 4], [-8, -6, -4, -2, 0], [-6, -4, -2, 0, 2],
          [-4, -3, -2, -1, 0, 1, 2], [-10, -8, -6, -4, -2, 0, 2, 4]]
xticks = [0.0, 0.5, 1.0, 1.5, 2.0, 2.5]

panels = [
    ([hc_sr, hc_dual, hc_grad, hc_dsr, hc_dtd],
     [hc_sr_lo, hc_dual_lo, hc_grad_lo, hc_dsr_lo, hc_dtd_lo],
     [hc_sr_hi, hc_dual_hi, hc_grad_hi, hc_dsr_hi, hc_dtd_hi], hc_beh),
    ([hp_sr, hp_dual, hp_grad, hp_dsr, hp_dtd],
     [hp_sr_lo, hp_dual_lo, hp_grad_lo, hp_dsr_lo, hp_dtd_lo],
     [hp_sr_hi, hp_dual_hi, hp_grad_hi, hp_dsr_hi, hp_dtd_hi], hp_beh),
    ([wk_sr, wk_dual, wk_grad, wk_dsr, wk_dtd],
     [wk_sr_lo, wk_dual_lo, wk_grad_lo, wk_dsr_lo, wk_dtd_lo],
     [wk_sr_hi, wk_dual_hi, wk_grad_hi, wk_dsr_hi, wk_dtd_hi], wk_beh),
    ([ant_sr, ant_dual, ant_grad, ant_dsr, ant_dtd],
     [ant_sr_lo, ant_dual_lo, ant_grad_lo, ant_dsr_lo, ant_dtd_lo],
     [ant_sr_hi, ant_dual_hi, ant_grad_hi, ant_dsr_hi, ant_dtd_hi], ant_beh),
    ([hm_sr, hm_dual, hm_grad, hm_dsr, hm_dtd],
     [hm_sr_lo, hm_dual_lo, hm_grad_lo, hm_dsr_lo, hm_dtd_lo],
     [hm_sr_hi, hm_dual_hi, hm_grad_hi, hm_dsr_hi, hm_dtd_hi], hm_beh),
]

colors = ['#1f77b4', '#ff7f0e', '#2ca02c', '#d62728', '#9467bd']
markers = ['o', 's', 'P', 'X', 'v']
msizes = [8, 8, 8.5, 8.5, 8]
every = [9, 5, 6, 7, 8]

fig = plt.figure(figsize=(16.67, 3.57), dpi=100)
lefts = [0.026, 0.225, 0.4245, 0.624, 0.823]

for k, (means, los, his, beh) in enumerate(panels):
    ax = fig.add_axes([lefts[k], 0.258, 0.175, 0.672])
    ax.set_facecolor('#EAEAF2')
    ax.grid(True, color='white', linewidth=1.1)
    ax.set_axisbelow(True)
    for s in ax.spines.values():
        s.set_color('#333333')
        s.set_linewidth(1.2)

    for j in range(5):
        ax.fill_between(steps, los[j], his[j], color=colors[j], alpha=0.25,
                        linewidth=0, zorder=1)
    ax.plot([steps[0], steps[-1]], [beh, beh], color='black', lw=3.2,
            dashes=(2.5, 1.3), zorder=1.5)
    for j in range(5):
        ax.plot(steps, means[j], color=colors[j], lw=1.9, marker=markers[j],
                ms=msizes[j], markevery=every[j], mec=colors[j], mew=0, zorder=2)

    ax.set_xlim(-0.125, 2.625)
    ax.set_ylim(*ylims[k])
    ax.set_xticks(xticks)
    ax.set_yticks(yticks[k])
    ax.xaxis.set_major_formatter(FuncFormatter(lambda v, p: f'{v:.1f}'))
    if k < 3:
        ax.yaxis.set_major_formatter(FuncFormatter(lambda v, p: f'{v:g}'))
    else:
        ax.yaxis.set_major_formatter(FuncFormatter(lambda v, p: f'{v:g}'.replace('-', '\u2212')))
    ax.tick_params(length=0, labelsize=8.5, labelcolor='#333333', pad=5)
    ax.set_title(envs[k], fontsize=15, color='#222222', pad=5)
    ax.set_xlabel('Time steps (1e5)', fontsize=12, color='#222222', labelpad=2)
    if k == 0:
        ax.set_ylabel('Log MSE', fontsize=11.5, color='#222222', labelpad=2)

handles = [Line2D([], [], color=colors[j], lw=1.9, marker=markers[j], ms=msizes[j], mew=0)
           for j in range(5)]
handles.append(Line2D([], [], color='black', lw=3.2, dashes=(1.6, 0.9)))


def make_legend(size):
    return fig.legend(handles, methods + [behavior_label], loc='center',
                      bbox_to_anchor=(0.497, 0.055), ncol=6, frameon=False,
                      prop={'family': 'Liberation Serif', 'size': size},
                      markerscale=1.8, handlelength=2.1, handletextpad=0.6,
                      columnspacing=1.6, borderpad=0)


# the legend in the picture runs from about x=68 to x=1588 px
size = 20.0
leg = make_legend(size)
for _ in range(3):
    fig.canvas.draw()
    w = leg.get_window_extent().width
    size = size * 1520.0 / w
    leg.remove()
    leg = make_legend(size)

fig.savefig('out.png', dpi=100)
